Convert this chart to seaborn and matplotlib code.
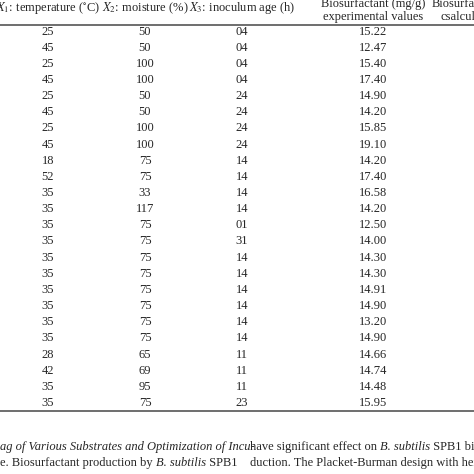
import matplotlib
matplotlib.use("Agg")
import matplotlib.pyplot as plt
import seaborn as sns

sns.set_style("white")
plt.rcParams['font.family'] = ['Liberation Serif', 'DejaVu Serif']
plt.rcParams['mathtext.fontset'] = 'stix'

temperature = ["25","45","25","45","25","45","25","45","18","52","35","35","35","35","35","35","35","35","35","35","28","42","35","35"]
moisture = ["50","50","100","100","50","50","100","100","75","75","33","117","75","75","75","75","75","75","75","75","65","69","95","75"]
inoculum = ["04","04","04","04","24","24","24","24","14","14","14","14","01","31","14","14","14","14","14","14","11","11","11","23"]
experimental = ["15.22","12.47","15.40","17.40","14.90","14.20","15.85","19.10","14.20","17.40","16.58","14.20","12.50","14.00","14.30","14.30","14.91","14.90","13.20","14.90","14.66","14.74","14.48","15.95"]

fig = plt.figure(figsize=(4.74, 4.74), dpi=100)
ax = fig.add_axes([0, 0, 1, 1])
ax.set_xlim(0, 474); ax.set_ylim(474, 0); ax.axis('off')
fig.canvas.draw()
renderer = fig.canvas.get_renderer()

fs = 9.0
cols = [48, 145, 242, 373]
ax.text(cols[0], 8, r"$X_1$: temperature ($^{\circ}$C)", ha='center', va='center', fontsize=fs)
ax.text(cols[1], 8, r"$X_2$: moisture (%)", ha='center', va='center', fontsize=fs)
ax.text(cols[2], 8, r"$X_3$: inoculum age (h)", ha='center', va='center', fontsize=fs)
ax.text(cols[3], 4, "Biosurfactant (mg/g)", ha='center', va='center', fontsize=fs)
ax.text(cols[3], 17, "experimental values", ha='center', va='center', fontsize=fs)
ax.text(432, 4, "Biosurfa", ha='left', va='center', fontsize=fs)
ax.text(441, 17, "csalcul", ha='left', va='center', fontsize=fs)
ax.plot([0, 474], [25, 25], color='#555555', lw=1.2)

n = len(temperature)
y0, dy = 31.5, (403 - 31.5) / (n - 1)
for i in range(n):
    y = y0 + i * dy
    for c, vals in zip(cols, [temperature, moisture, inoculum, experimental]):
        ax.text(c, y, vals[i], ha='center', va='center', fontsize=fs)
ax.plot([0, 474], [411, 411], color='#555555', lw=1.2)

def runs(x, y, parts):
    for s, it in parts:
        t = ax.text(x, y, s, fontsize=fs, style='italic' if it else 'normal', va='center')
        x += t.get_window_extent(renderer).width

runs(0, 447, [("ag of Various Substrates and Optimization of Incu-", True)])
runs(0, 463, [("e. Biosurfactant production by ", False), ("B. subtilis", True), (" SPB1", False)])
runs(250, 447, [("have significant effect on ", False), ("B. subtilis", True), (" SPB1 biosurfactant pro-", False)])
runs(250, 463, [("duction. The Placket-Burman design with height", False)])

fig.savefig("out.png", dpi=100)
